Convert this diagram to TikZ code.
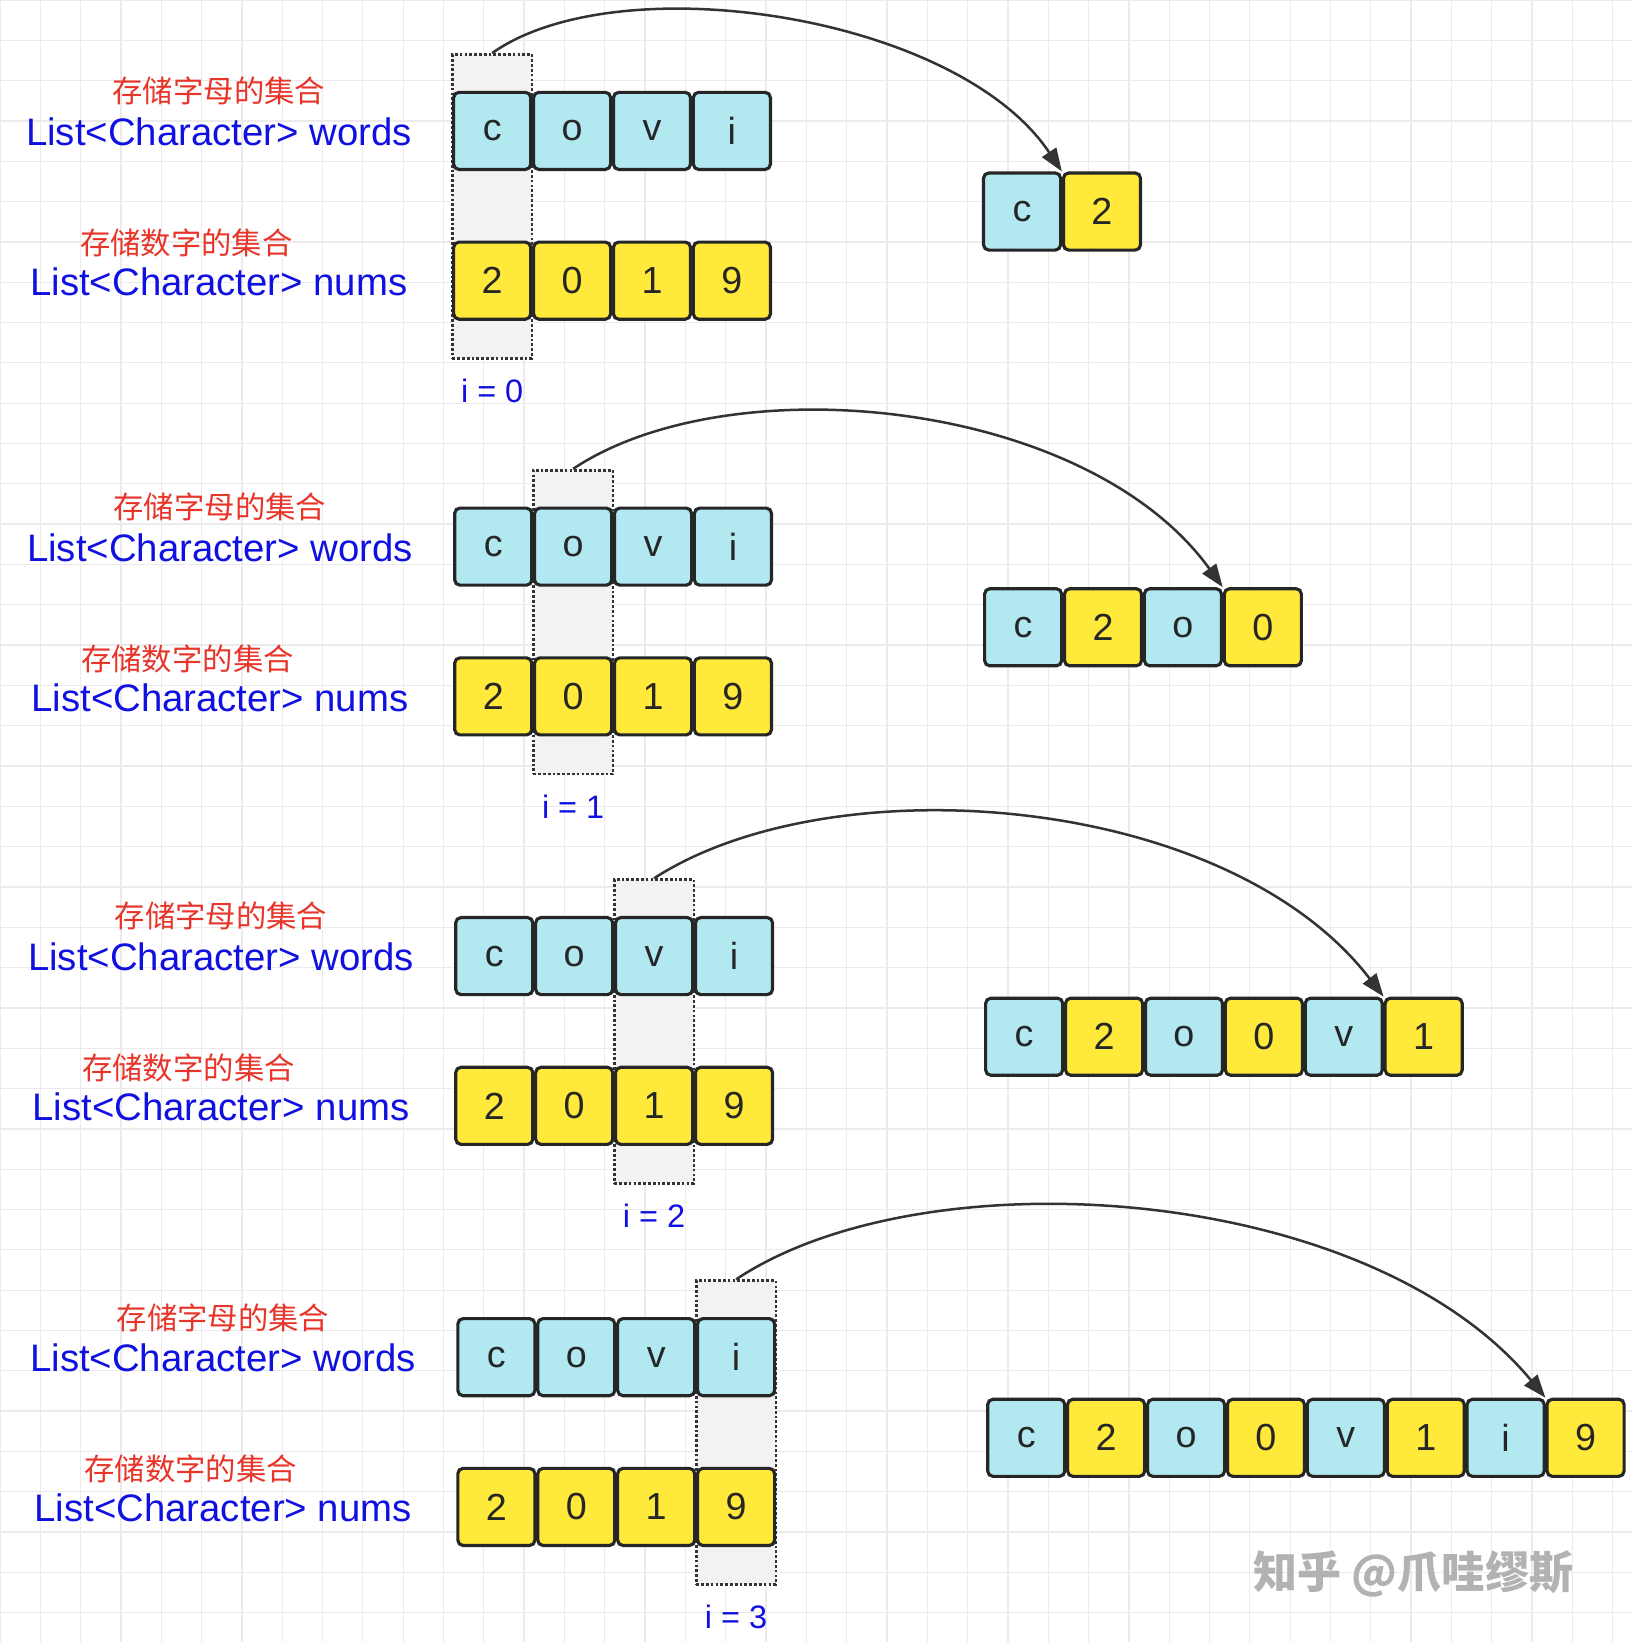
\documentclass[tikz,border=0pt]{standalone}
\usepackage{fontspec}
\setmainfont{Liberation Sans}
\newfontfamily\cjk{Noto Sans CJK SC}
\usetikzlibrary{arrows.meta}
\definecolor{cy}{HTML}{B2E9F1}
\definecolor{ye}{HTML}{FFE93A}
\definecolor{lblue}{HTML}{1010E0}
\definecolor{lred}{HTML}{E8352A}
\begin{document}
\begin{tikzpicture}[x=0.5pt,y=-0.5pt,
 cell/.style={draw=black!85, line width=1.5pt, rounded corners=2.5pt, minimum size=36.8pt, inner sep=0pt, font=\fontsize{18}{18}\selectfont, text=black!85},
 C/.style={cell, fill=cy}, Y/.style={cell, fill=ye},
 dotbox/.style={draw=black!80, densely dotted, line width=1.3pt, fill=black!5, minimum width=38pt, minimum height=145pt, inner sep=0pt},
 red/.style={text=lred, font=\cjk\fontsize{14.5}{15}\selectfont},
 blue/.style={text=lblue, font=\fontsize{18.3}{19}\selectfont},
 idx/.style={text=lblue, font=\fontsize{15.5}{16}\selectfont},
 arr/.style={-{Triangle[length=11pt,width=8pt]}, line width=1.2pt, draw=black!80}]
\useasboundingbox (0,0) rectangle (1558,1568);
\fill[white] (0,0) rectangle (1558,1568);
\foreach \g in {0,38.5,...,1560} {\draw[black!8, line width=0.6pt] (\g,0) -- (\g,1568); \draw[black!8, line width=0.6pt] (0,\g) -- (1558,\g);}
\foreach \b/\ox/\oy in {0/0/0, 1/1/397, 2/2/788, 3/4/1171} {
  \node[dotbox] (d\b) at ({470+76.3*\b+\ox},{197+\oy}) {};
  \node[idx] (i\b) at ({470+76.3*\b+\ox},{373+\oy}) {i = \b};
  \node[red] (rw\b) at ({209+\ox},{87+\oy}) {存储字母的集合};
  \node[blue] (bw\b) at ({209+\ox},{126+\oy}) {List<Character> words};
  \node[red] (rn\b) at ({178+\ox},{232+\oy}) {存储数字的集合};
  \node[blue] (bn\b) at ({209+\ox},{269+\oy}) {List<Character> nums};
  \foreach \t [count=\j from 0] in {c,o,v,i} \node[C] (w\b-\j) at ({470+76.3*\j+\ox},{125+\oy}) {\t};
  \foreach \t [count=\j from 0] in {2,0,1,9} \node[Y] (n\b-\j) at ({470+76.3*\j+\ox},{268+\oy}) {\t};
}
\foreach \b/\ox/\oy/\last in {0/0/0/1, 1/1/397/3, 2/2/788/5, 3/4/1171/7} {
  \foreach \t [count=\j from 0] in {c,2,o,0,v,1,i,9} {
    \ifnum\j>\last\else
      \pgfmathparse{mod(\j,2)==0 ? "C" : "Y"}\edef\st{\pgfmathresult}
      \node[\st] (r\b-\j) at ({976+76.3*\j+\ox},{202+\oy}) {\t};
    \fi
  }
}
\draw[arr] (d0.north) .. controls ++(120,-85) and ++(-100,-150) .. (r0-1.north west);
\draw[arr] (d1.north) .. controls ++(150,-100) and ++(-130,-180) .. (r1-3.north west);
\draw[arr] (d2.north) .. controls ++(170,-110) and ++(-150,-195) .. (r2-5.north west);
\draw[arr] (d3.north) .. controls ++(180,-120) and ++(-170,-205) .. (r3-7.north west);
\node[text=black!30, font=\cjk\bfseries\fontsize{21}{22}\selectfont] (wm) at (1350,1503) {知乎 @爪哇缪斯};
\end{tikzpicture}
\end{document}
